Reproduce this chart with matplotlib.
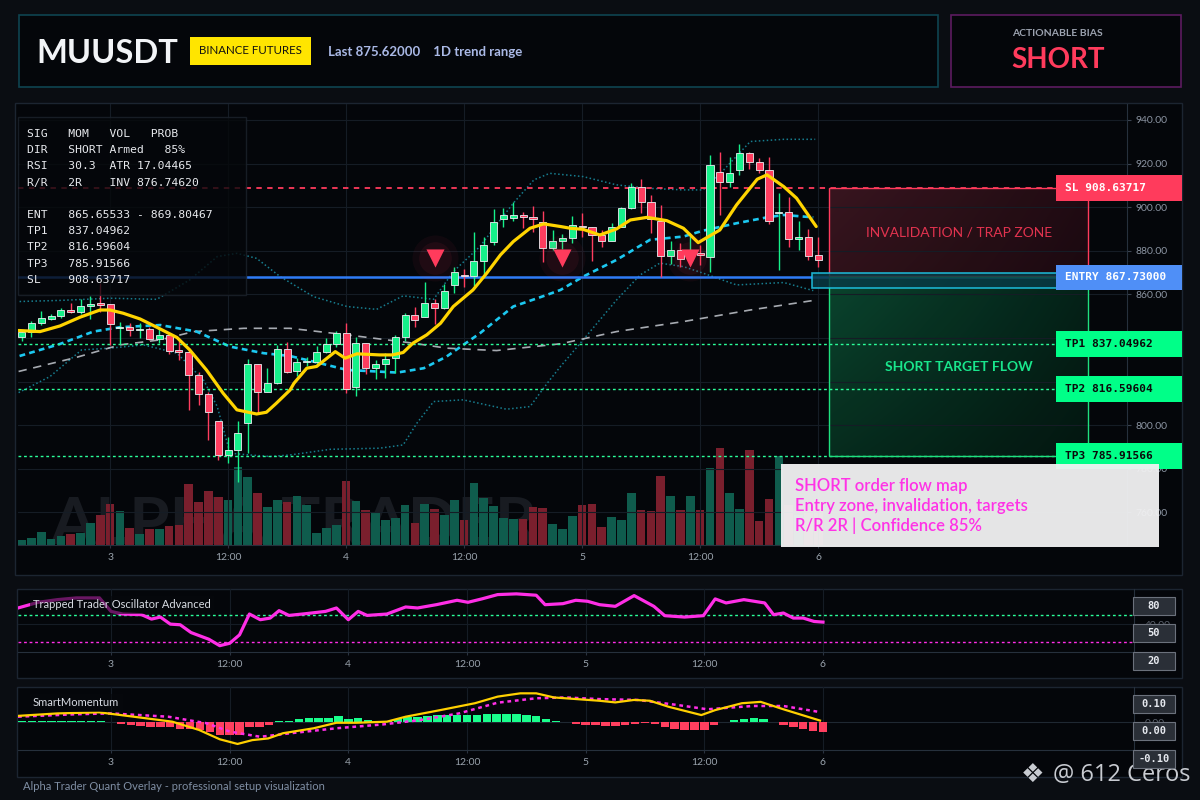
# MUUSDT short setup overlay - recreated with matplotlib
import matplotlib
matplotlib.use("Agg")
import matplotlib.pyplot as plt
import matplotlib.transforms as mtransforms
from matplotlib.patches import Rectangle
from matplotlib.colors import to_rgb
import numpy as np

# ---------------- data (hourly candles 0..81) ----------------
opens = [840.2, 842.5, 846.7, 848.9, 849.9, 852.8, 852.1, 854.7, 855.8, 855.4,
         844.5, 844.9, 843.4, 844.0, 839.7, 841.2, 834.1, 833.6, 822.9, 814.2,
         801.8, 786.3, 788.6, 800.9, 827.9, 815.4, 819.2, 834.9, 824.6, 828.9,
         829.1, 833.7, 837.1, 842.1, 817.4, 837.5, 826.4, 828.0, 830.7, 840.3,
         850.5, 849.8, 855.9, 853.6, 864.3, 868.8, 868.2, 875.3, 884.2, 894.4,
         894.9, 896.4, 895.3, 893.1, 881.1, 884.5, 885.7, 891.5, 890.8, 887.2,
         884.5, 891.1, 899.5, 909.1, 902.2, 893.8, 877.8, 880.4, 877.5, 878.8,
         877.3, 916.3, 911.4, 916.8, 924.7, 920.6, 916.8, 897.2, 897.6, 885.3,
         886.2, 878.1]
highs = [843.7, 847.8, 852.4, 851.0, 853.9, 855.9, 857.7, 859.0, 865.2, 855.6,
         847.5, 846.7, 846.7, 845.0, 844.4, 842.1, 839.0, 835.3, 824.5, 815.4,
         801.8, 794.7, 801.9, 830.4, 828.0, 826.4, 836.8, 838.3, 830.7, 831.4,
         836.3, 839.9, 843.2, 846.7, 840.6, 837.6, 829.9, 832.9, 841.4, 851.3,
         854.4, 865.8, 857.7, 864.8, 872.4, 871.5, 888.8, 886.5, 899.2, 899.5,
         902.5, 897.9, 900.5, 898.3, 889.5, 887.7, 896.0, 897.5, 891.0, 889.5,
         892.6, 900.2, 911.0, 912.8, 905.6, 901.0, 884.6, 883.4, 887.2, 882.6,
         924.0, 925.2, 923.2, 929.0, 925.5, 922.4, 922.9, 906.4, 904.8, 893.7,
         890.0, 886.5]
lows = [838.8, 840.6, 846.0, 848.0, 849.0, 851.3, 851.0, 848.9, 852.0, 836.8,
        837.3, 840.9, 839.8, 839.1, 837.5, 832.5, 830.0, 807.0, 809.0, 793.2,
        784.0, 782.8, 774.1, 787.1, 805.4, 815.0, 819.0, 823.8, 822.3, 826.9,
        826.9, 833.0, 836.0, 814.6, 813.4, 823.5, 821.2, 821.5, 823.8, 838.8,
        845.2, 849.5, 846.4, 853.4, 860.5, 863.5, 863.9, 868.1, 882.7, 891.1,
        893.4, 890.3, 888.8, 874.6, 880.4, 880.7, 883.4, 886.2, 875.5, 881.6,
        884.3, 890.9, 899.3, 897.5, 888.3, 867.8, 873.9, 872.7, 874.3, 873.5,
        870.4, 896.4, 909.4, 914.8, 917.5, 915.8, 892.3, 871.2, 881.9, 880.1,
        875.8, 872.7]
closes = [842.5, 846.7, 849.0, 849.9, 852.8, 852.1, 854.7, 855.4, 855.3, 846.3,
          845.0, 843.4, 844.0, 839.7, 841.2, 833.9, 833.6, 822.9, 814.2, 806.0,
          786.3, 788.4, 796.3, 827.9, 815.4, 819.2, 834.9, 824.5, 828.9, 829.5,
          833.7, 837.1, 842.1, 816.6, 837.5, 826.4, 827.9, 830.3, 840.3, 850.5,
          848.0, 855.9, 853.6, 861.3, 870.4, 868.2, 875.3, 882.7, 893.1, 896.4,
          896.4, 895.3, 894.4, 881.1, 884.5, 886.0, 891.8, 890.8, 887.2, 884.5,
          891.1, 899.5, 909.1, 902.2, 894.4, 877.8, 880.4, 876.1, 878.5, 877.9,
          919.4, 911.7, 915.5, 924.7, 920.6, 916.8, 893.4, 897.8, 885.3, 886.2,
          877.8, 875.62]
volumes = [5, 7, 13, 5.7, 9, 10.7, 11.7, 21.7, 30, 40.7,
           34, 17, 11, 16, 16, 19, 20, 61, 43, 54,
           48, 45, 78, 68, 52, 38, 45, 43, 49, 40,
           12, 17, 20, 64, 44, 35, 32, 25, 27, 40,
           22, 41, 36, 30, 45, 25, 62, 47, 39, 27,
           26, 26, 38, 37, 21, 16, 29, 40, 41, 18,
           28, 25, 52, 35, 34, 69, 49, 35, 49, 35,
           77, 97, 52, 36, 95, 24, 46, 89, 40, 30,
           35, 45]

# overlay lines (candle index, price)
ema_fast_x = [-0.32, 1.88, 3.92, 5.95, 7.98, 9.0, 10.35, 12.05, 13.75, 15.8, 17.1, 18.8, 20.5,
              21.9, 23.9, 24.9, 25.9, 27.3, 27.7, 29.0, 30.0, 31.9, 32.9, 34.1, 36.4, 37.7,
              38.8, 39.8, 41.2, 42.6, 43.9, 45.9, 47.3, 48.7, 50.0, 51.7, 53.1, 54.8, 55.8,
              57.1, 58.8, 60.5, 61.9, 63.6, 65.6, 67.3, 68.8, 71.0, 72.7, 74.8, 75.8, 77.5,
              78.8, 80.8]
ema_fast_y = [843.4, 842.9, 845.5, 849.5, 852.8, 852.8, 851.3, 848.7, 844.9, 840.2, 834.5, 825.3,
              814.6, 807.0, 805.1, 805.9, 810.0, 816.1, 819.2, 826.1, 826.9, 833.7, 830.7, 832.7,
              832.2, 832.2, 833.3, 837.6, 841.4, 846.7, 854.4, 862.0, 869.7, 878.1, 884.2, 890.3,
              892.3, 891.1, 890.3, 889.8, 887.2, 890.0, 894.1, 895.3, 893.8, 890.3, 883.7, 889.5,
              901.0, 912.8, 914.8, 909.4, 904.1, 891.1]
ema_mid_x = [-0.2, 3.9, 7.3, 10.0, 14.1, 17.8, 21.2, 24.6, 27.3, 29.7, 33.1, 38.2, 40.9, 43.2,
             46.6, 50.0, 53.4, 54.8, 57.1, 60.5, 63.9, 67.3, 69.3, 72.7, 75.8, 77.5, 80.5]
ema_mid_y = [831.7, 837.2, 842.9, 844.9, 845.9, 842.9, 836.0, 833.0, 831.7, 829.1, 825.3, 824.1,
             826.1, 831.4, 842.1, 854.4, 859.7, 862.0, 868.1, 875.8, 885.0, 886.5, 889.2, 892.6,
             895.3, 896.4, 895.3]
sma_long_x = [-0.3, 5.6, 10.0, 14.1, 17.5, 22.6, 27.3, 33.1, 39.8, 43.2, 48.3, 54.8, 60.5, 67.3,
              74.1, 80.4]
sma_long_y = [824.6, 831.1, 836.8, 839.1, 842.9, 844.4, 844.4, 841.4, 837.6, 835.3, 834.2, 837.3,
              842.9, 847.5, 852.8, 857.1]
bb_up_x = [-0.2, 3.9, 9.0, 13.75, 17.1, 19.9, 21.9, 23.9, 26.3, 29.7, 33.1, 36.1, 38.8, 41.9,
           43.9, 46.6, 50.0, 52.1, 53.7, 57.1, 60.5, 63.9, 67.3, 69.3, 71.4, 74.1, 77.5, 80.7]
bb_up_y = [856.7, 857.2, 858.2, 857.7, 866.6, 877.3, 878.8, 876.5, 868.1, 858.9, 854.4, 853.1,
           859.3, 857.7, 870.4, 881.9, 901.8, 912.5, 915.5, 914.0, 910.2, 908.6, 907.9, 907.9,
           917.1, 930.1, 931.1, 931.1]
bb_lo_x = [-0.3, 2.9, 6.1, 9.0, 12.4, 15.8, 18.5, 19.9, 21.2, 23.2, 25.3, 27.3, 31.4, 36.4, 38.8,
           40.2, 41.9, 44.9, 49.3, 51.7, 53.5, 54.8, 57.1, 60.5, 62.9, 64.9, 67.3, 69.3, 72.7,
           77.5, 80.5]
bb_lo_y = [814.9, 822.3, 834.5, 835.3, 836.8, 833.0, 820.7, 808.5, 787.1, 786.3, 785.6, 786.3,
           788.9, 789.4, 790.9, 800.9, 810.8, 811.6, 807.3, 808.5, 819.5, 826.9, 839.1, 857.4,
           868.9, 874.3, 872.7, 869.7, 864.3, 865.4, 861.7]

# sell signals
signal_idx = [42, 55, 68]

# trade plan
inv_price = 876.74620
entry_price = 867.73
entry_low, entry_high = 865.65533, 869.80467
entry_box_low = 862.9
sl_price = 908.63717
tp_prices = [837.04962, 816.59604, 785.91566]

# Trapped Trader Oscillator
osc_x = [-0.4, 1.65, 3.58, 5.5, 7.84, 9.0, 10.2, 12.1, 13.1, 14.0, 15.0, 16.0, 17.1, 18.9, 20.0,
         21.0, 22.0, 23.0, 24.1, 25.1, 26.0, 27.0, 28.7, 30.7, 31.8, 33.0, 34.0, 34.9, 36.9, 38.8,
         40.0, 41.9, 44.0, 45.1, 46.5, 48.1, 50.0, 52.0, 52.9, 54.7, 56.0, 57.2, 58.4, 60.0, 61.9,
         63.9, 65.0, 67.0, 68.9, 70.1, 71.2, 73.0, 75.1, 76.0, 77.0, 78.0, 79.0, 80.1, 81.0]
osc_y = [68.0, 74.2, 77.1, 79.0, 79.0, 64.3, 61.4, 60.7, 55.9, 58.1, 50.4, 49.7, 41.2, 33.9, 26.9,
         29.5, 38.7, 61.4, 55.2, 57.0, 65.1, 59.9, 61.8, 64.3, 68.0, 55.2, 64.3, 59.9, 61.4, 69.1,
         68.0, 71.6, 76.4, 74.2, 77.9, 82.6, 83.4, 81.9, 71.6, 72.7, 76.4, 75.3, 71.6, 69.8, 81.5,
         69.8, 59.6, 58.1, 59.6, 77.9, 73.5, 77.1, 73.5, 60.7, 62.5, 57.0, 57.0, 53.3, 52.6]
osc_upper, osc_lower, osc_grid = 60.4, 30.9, 50.5
osc_scale = [80, 50, 20]

# SmartMomentum
mom_hist = [0.004, 0.004, 0.004, 0.004, 0.004, 0.004, 0.004, 0.004, 0.004, 0.002,
            -0.006, -0.010, -0.012, -0.015, -0.017, -0.017, -0.022, -0.024, -0.029, -0.033,
            -0.047, -0.047, -0.045, -0.018, -0.017, -0.010, 0.004, 0.007, 0.012, 0.016,
            0.018, 0.018, 0.022, 0.012, 0.015, 0.010, 0.007, 0.006, 0.012, 0.019,
            0.019, 0.024, 0.026, 0.026, 0.027, 0.027, 0.029, 0.030, 0.032, 0.032,
            0.032, 0.028, 0.022, 0.012, 0.007, 0.002, -0.004, -0.009, -0.010, -0.012,
            -0.012, -0.008, -0.004, -0.003, -0.006, -0.016, -0.024, -0.027, -0.027, -0.027,
            -0.010, 0.002, 0.009, 0.012, 0.015, 0.012, 0.002, -0.009, -0.015, -0.022,
            -0.030, -0.034]
mom_x = [-0.4, 3.6, 7.8, 11.3, 15.2, 17.9, 20.0, 21.8, 23.3, 24.9, 26.4, 29.5, 31.8, 33.8, 36.9,
         38.8, 42.3, 45.8, 48.1, 50.4, 52.0, 53.8, 58.4, 60.0, 61.9, 63.5, 65.4, 68.7, 70.1, 72.8,
         74.7, 77.0, 80.7]
mom_y = [0.024, 0.033, 0.037, 0.021, 0.003, -0.027, -0.061, -0.078, -0.064, -0.058, -0.039,
         -0.021, -0.001, -0.001, 0.003, 0.021, 0.045, 0.070, 0.094, 0.106, 0.106, 0.091, 0.079,
         0.073, 0.082, 0.079, 0.057, 0.027, 0.045, 0.070, 0.075, 0.048, 0.007]
sig_x = [-0.4, 5.5, 9.0, 14.8, 18.7, 21.0, 24.1, 27.2, 31.8, 36.5, 40.3, 44.2, 48.1, 52.0, 55.0,
         58.4, 62.3, 66.2, 69.3, 73.9, 77.0, 80.5]
sig_y = [0.021, 0.030, 0.033, 0.021, -0.003, -0.033, -0.052, -0.039, -0.021, -0.007, 0.009, 0.033,
         0.072, 0.088, 0.091, 0.085, 0.082, 0.064, 0.048, 0.060, 0.060, 0.039]
mom_scale = [0.10, 0.00, -0.10]

tick_pos = [9, 21, 33, 45, 57, 69, 81]
tick_labels = ['3', '12:00', '4', '12:00', '5', '12:00', '6']
price_ticks = [760, 780, 800, 820, 840, 860, 880, 900, 920, 940]
hidden_price_ticks = [820, 840]   # covered by the TP tags in the reference

# ---------------- style ----------------
BG = '#0a0d12'
PANEL = '#04060a'
EDGE = '#1c2531'
GRID = '#151c25'
GREEN = '#16f08a'
RED = '#ff3d5f'
MAGENTA = '#ff2ee6'
plt.rcParams['font.family'] = ['Lato', 'DejaVu Sans']

W, H = 1200, 800


def fr(x0, y0, x1, y1):
    return [x0 / W, 1 - y1 / H, (x1 - x0) / W, (y1 - y0) / H]


def panel(x0, y0, x1, y1, fc=PANEL, ec=EDGE, lw=1.0):
    fig.add_artist(Rectangle((x0 / W, 1 - y1 / H), (x1 - x0) / W, (y1 - y0) / H,
                             transform=fig.transFigure, fc=fc, ec=ec, lw=lw, zorder=-5))


def gradient(ax, x0, x1, y0, y1, c_left, c_right, shade=0.0, alpha=0.92):
    tx = np.linspace(0, 1, 64)[None, :, None]
    ty = np.linspace(0, 1, 32)[:, None, None]
    img = np.array(to_rgb(c_left)) * (1 - tx) + np.array(to_rgb(c_right)) * tx
    img = img * (1 - shade + shade * ty)
    ax.imshow(np.clip(img, 0, 1), extent=(x0, x1, y0, y1), origin='lower',
              aspect='auto', zorder=1, alpha=alpha, interpolation='bilinear')


def style_time_axis(a):
    a.set_xticks(tick_pos)
    a.set_xticklabels(tick_labels)
    a.tick_params(axis='x', colors='#2a3340', labelcolor='#9aa3ad', labelsize=7.5,
                  length=2, pad=4)
    a.grid(axis='x', color=GRID, lw=0.8)
    for s in ['left', 'top']:
        a.spines[s].set_visible(False)
    for s in ['right', 'bottom']:
        a.spines[s].set_color('#26303c')


fig = plt.figure(figsize=(12, 8), dpi=100, facecolor=BG)

# panels
panel(19, 15, 938, 87, ec='#0e4450', lw=1.2)
panel(951, 15, 1181, 87, ec='#5c1b60', lw=1.2)
panel(15, 103, 1182, 575)
panel(17, 589, 1182, 678)
panel(17, 687, 1182, 777)

# ---------------- main price chart ----------------
idx = np.arange(len(closes))
up = [c >= o for o, c in zip(opens, closes)]

ax_vol = fig.add_axes(fr(18, 104, 1127, 545))
ax_vol.patch.set_visible(False)
ax_vol.bar(idx, volumes, width=0.88, color=['#0f5c4d' if u else '#7a1f2d' for u in up], zorder=2)
ax_vol.set_xlim(-0.36, 112.4)
ax_vol.set_ylim(0, 441)
ax_vol.axis('off')
ax_vol.text(50 / W, 1 - 544 / H, 'ALPHA TRADER', transform=fig.transFigure, fontsize=47,
            fontweight='bold', color='#181b21', va='baseline', zorder=1)

ax = fig.add_axes(fr(18, 104, 1127, 545))
ax.patch.set_visible(False)

ax.plot(bb_up_x, bb_up_y, color='#177d8f', lw=1.1, ls=(0, (1, 1.6)), zorder=2)
ax.plot(bb_lo_x, bb_lo_y, color='#177d8f', lw=1.1, ls=(0, (1, 1.6)), zorder=2)
ax.plot(sma_long_x, sma_long_y, color='#c4c8cf', lw=1.2, ls=(0, (5, 4)), alpha=0.85, zorder=2)
ax.plot(ema_mid_x, ema_mid_y, color='#1cc8f0', lw=1.9, ls=(0, (2.2, 1.6)), zorder=3)

for i, (o, h, l, c) in enumerate(zip(opens, highs, lows, closes)):
    col = GREEN if c >= o else RED
    ax.plot([i, i], [l, h], color=col, lw=1.0, zorder=4, solid_capstyle='butt')
    ax.add_patch(Rectangle((i - 0.36, min(o, c)), 0.72, max(abs(c - o), 0.7),
                           fc=col, ec='#eceef2', lw=0.6, zorder=5))

ax.plot(ema_fast_x, ema_fast_y, color='#ffd400', lw=2.3, zorder=6, solid_capstyle='round')

# level lines
ax.axhline(sl_price, color='#ff3b5c', lw=1.3, ls=(0, (3, 3)), zorder=3)
ax.axhline(entry_price, color='#2f7cf6', lw=1.8, zorder=3)
for tp in tp_prices:
    ax.axhline(tp, color='#2bff9a', lw=1.0, ls=(0, (2, 2)), zorder=3)

# zones
zx0, zx1 = 82.15, 108.4
gradient(ax, zx0, zx1, entry_price + 0.8, sl_price, '#3d1721', '#230c14', shade=0.15)
gradient(ax, zx0, zx1, tp_prices[2], entry_price, '#0b4a31', '#05251a', shade=0.35)
ax.add_patch(Rectangle((zx0, entry_price + 0.8), zx1 - zx0, sl_price - entry_price - 0.8,
                       fc='none', ec='#ff3b5c', lw=1.0, zorder=4))
ax.add_patch(Rectangle((zx0, tp_prices[2]), zx1 - zx0, entry_price - tp_prices[2],
                       fc='none', ec='#1fe07f', lw=1.0, zorder=4))
ax.add_patch(Rectangle((80.35, entry_box_low), 30, entry_high - entry_box_low,
                       fc='#083a44', ec='#1ec8e8', lw=1.2, alpha=0.85, zorder=4))
ax.text((zx0 + zx1) / 2, (entry_price + sl_price) / 2, 'INVALIDATION / TRAP ZONE',
        ha='center', va='center', fontsize=10, color='#e2334f', zorder=7)
ax.text((zx0 + zx1) / 2, (entry_price + tp_prices[2]) / 2, 'SHORT TARGET FLOW',
        ha='center', va='center', fontsize=10, fontweight='bold', color='#19e68c', zorder=7)

# sell markers with glow
sx = signal_idx
sy = [inv_price] * len(signal_idx)
ax.scatter(sx, sy, s=1100, c='#ff3b5c', alpha=0.05, marker='o', lw=0, zorder=6)
ax.scatter(sx, sy, s=550, c='#ff3b5c', alpha=0.07, marker='o', lw=0, zorder=6)
ax.scatter(sx, sy, s=170, c='#ff3b5c', marker='v', lw=0, zorder=7)

ax.set_xlim(-0.36, 112.4)
ax.set_ylim(745.0, 947.3)
ax.yaxis.tick_right()
ax.set_yticks(price_ticks)
ax.set_yticklabels(['' if p in hidden_price_ticks else f'{p:.2f}' for p in price_ticks])
ax.tick_params(axis='y', colors='#3a4350', labelcolor='#8c95a3', labelsize=7.5, length=3, pad=3)
ax.grid(axis='y', color=GRID, lw=0.8)
style_time_axis(ax)

# ---------------- oscillator ----------------
ax_osc = fig.add_axes(fr(18, 589, 1134, 652))
ax_osc.patch.set_visible(False)
ax_osc.plot(osc_x, osc_y, color=MAGENTA, lw=2.3, zorder=4)
ax_osc.axhline(osc_upper, color='#2bff9a', lw=1.0, ls=(0, (2, 2)), zorder=3)
ax_osc.axhline(osc_lower, color=MAGENTA, lw=1.0, ls=(0, (2, 2)), zorder=3)
ax_osc.axhline(osc_grid, color=GRID, lw=0.8, zorder=1)
ax_osc.set_xlim(-0.40, 112.45)
ax_osc.set_ylim(20, 88.7)
ax_osc.yaxis.tick_right()
ax_osc.set_yticks([osc_grid])
ax_osc.set_yticklabels(['40.00'])
ax_osc.tick_params(axis='y', length=0, labelcolor='#5c636e', labelsize=7.5, pad=8)
style_time_axis(ax_osc)

# ---------------- momentum ----------------
ax_mom = fig.add_axes(fr(18, 687, 1134, 750))
ax_mom.patch.set_visible(False)
ax_mom.bar(idx, mom_hist, width=0.85, color=['#19ff8c' if v >= 0 else '#ff3f5f' for v in mom_hist],
           zorder=2)
ax_mom.plot(mom_x, mom_y, color='#ffd000', lw=1.6, zorder=4)
ax_mom.plot(sig_x, sig_y, color=MAGENTA, lw=1.8, ls=(0, (1.5, 1.5)), zorder=3)
ax_mom.axhline(0, color='#1f2832', lw=0.8, zorder=1)
ax_mom.set_xlim(-0.40, 112.45)
ax_mom.set_ylim(-0.10, 0.129)
ax_mom.yaxis.tick_right()
ax_mom.set_yticks([0.0])
ax_mom.set_yticklabels(['0.00'])
ax_mom.tick_params(axis='y', length=0, labelcolor='#5c636e', labelsize=7.5, pad=8)
style_time_axis(ax_mom)

# ---------------- overlays at figure level ----------------
blend_main = mtransforms.blended_transform_factory(fig.transFigure, ax.transData)
blend_osc = mtransforms.blended_transform_factory(fig.transFigure, ax_osc.transData)
blend_mom = mtransforms.blended_transform_factory(fig.transFigure, ax_mom.transData)

# price tags on the right scale
lab_h = 25.7 / 2.18
price_labels = [(f'SL {sl_price:.5f}', sl_price, '#ff3b5c', 'white'),
                (f'ENTRY {entry_price:.5f}', entry_price, '#4f8ff7', 'white')]
for k, tp in enumerate(tp_prices):
    price_labels.append((f'TP{k + 1} {tp:.5f}', tp, '#00ff88', '#0a0a0a'))
for txt, p, fc, tc in price_labels:
    fig.add_artist(Rectangle((1056 / W, p - lab_h / 2), 126 / W, lab_h, transform=blend_main,
                             fc=fc, ec='none', zorder=5))
    fig.text(1065 / W, p, txt, transform=blend_main, va='center', ha='left', fontsize=8,
             family='DejaVu Sans Mono', fontweight='bold', color=tc, zorder=6)

# scale boxes of the lower panels
for v in osc_scale:
    hh = 18 / 0.9167
    fig.add_artist(Rectangle((1133 / W, v - hh), 42 / W, hh, transform=blend_osc,
                             fc='#2a2f37', ec='#6b717c', lw=0.8, zorder=5))
    fig.text(1154 / W, v - hh / 2, f'{v}', transform=blend_osc, ha='center', va='center',
             fontsize=7.5, family='DejaVu Sans Mono', fontweight='bold', color='#e6e9ef', zorder=6)
for v in mom_scale:
    hh = 18 / 275
    fig.add_artist(Rectangle((1133 / W, v - hh), 42 / W, hh, transform=blend_mom,
                             fc='#2a2f37', ec='#6b717c', lw=0.8, zorder=5))
    fig.text(1154 / W, v - hh / 2, f'{v:.2f}', transform=blend_mom, ha='center', va='center',
             fontsize=7.5, family='DejaVu Sans Mono', fontweight='bold', color='#e6e9ef', zorder=6)

# panel titles
fig.text(33 / W, 1 - 605 / H, 'Trapped Trader Oscillator Advanced', fontsize=8, color='#d8dce3',
         va='center', zorder=4,
         bbox=dict(boxstyle='square,pad=0.3', fc='#06080c', ec='none', alpha=0.6))
fig.text(33 / W, 1 - 703 / H, 'SmartMomentum', fontsize=8, color='#d8dce3', va='center', zorder=4,
         bbox=dict(boxstyle='square,pad=0.3', fc='#06080c', ec='none', alpha=0.6))

# info box
fig.add_artist(Rectangle((17.5 / W, 1 - 295 / H), 228.5 / W, 178 / H, transform=fig.transFigure,
                         fc='#05070a', ec='#1c232c', lw=1, alpha=0.8, zorder=2))
info_lines = ['SIG   MOM   VOL   PROB',
              'DIR   SHORT Armed   85%',
              'RSI   30.3  ATR 17.04465',
              f'R/R   2R    INV {inv_price:.5f}',
              f'ENT   {entry_low:.5f} - {entry_high:.5f}',
              f'TP1   {tp_prices[0]:.5f}',
              f'TP2   {tp_prices[1]:.5f}',
              f'TP3   {tp_prices[2]:.5f}',
              f'SL    {sl_price:.5f}']
info_y = [134, 150, 166, 182.7, 215.3, 230.7, 246.7, 264, 280]
for line, yy in zip(info_lines, info_y):
    fig.text(27 / W, 1 - yy / H, line, fontsize=8.2, family='DejaVu Sans Mono', color='#e8eaee',
             va='center', zorder=3)

# note box
fig.add_artist(Rectangle((781 / W, 1 - 547 / H), 378 / W, 83 / H, transform=fig.transFigure,
                         fc='#f2f2f3', ec='none', alpha=0.95, zorder=7))
for line, yy in zip(['SHORT order flow map', 'Entry zone, invalidation, targets',
                     'R/R 2R | Confidence 85%'], [486, 506, 526]):
    fig.text(795 / W, 1 - yy / H, line, fontsize=12, fontweight='semibold', color='#ff33e6',
             va='center', zorder=8)

# header
fig.text(36 / W, 1 - 63 / H, 'MUUSDT', fontsize=23.5, fontweight='bold', color='#f2f4f7',
         va='baseline')
fig.add_artist(Rectangle((190 / W, 1 - 65 / H), 121 / W, 28 / H, transform=fig.transFigure,
                         fc='#ffe500', ec='none', zorder=1))
fig.text(250.5 / W, 1 - 51 / H, 'BINANCE FUTURES', fontsize=8.3, color='#111111', ha='center',
         va='center', zorder=2)
fig.text(328 / W, 1 - 52 / H, 'Last 875.62000    1D trend range', fontsize=9.5,
         fontweight='bold', color='#aab9e6', va='center')
fig.text(1012 / W, 1 - 34 / H, 'ACTIONABLE BIAS', fontsize=7.5, fontweight='bold',
         color='#9ca3b0', va='center')
fig.text(1011 / W, 1 - 68 / H, 'SHORT', fontsize=20, fontweight='bold', color='#ff3b5c',
         va='baseline')

# footer
fig.text(23 / W, 1 - 787 / H, 'Alpha Trader Quant Overlay - professional setup visualization',
         fontsize=8, color='#7f8ea3', va='center')
fig.text(1033 / W, 1 - 775 / H, '\u2756', fontsize=19, color='#c8cbd1', ha='center', va='center',
         family='DejaVu Sans')
fig.text(1053 / W, 1 - 775 / H, '@ 612 Ceros', fontsize=17, color='#c8cbd1', va='center',
         family='Open Sans')

fig.savefig('out.png', dpi=100, facecolor=BG)
